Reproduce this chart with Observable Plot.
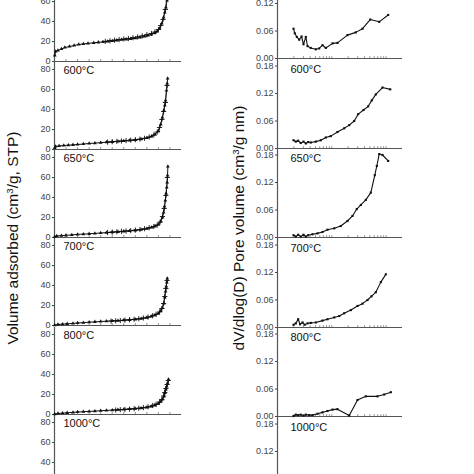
<!DOCTYPE html>
<html>
<head>
<meta charset="utf-8">
<script src="https://cdn.jsdelivr.net/npm/d3@7"></script>
<script src="https://cdn.jsdelivr.net/npm/@observablehq/plot@0.6"></script>
<style>
  html, body { margin: 0; padding: 0; background: #fff; }
  #fig { position: relative; width: 474px; height: 474px; overflow: hidden;
         font-family: "Liberation Sans", Arial, sans-serif; background: #fff; }
  #fig .panel { position: absolute; }
  #fig svg { background: transparent !important; overflow: visible !important; }
  #fig .ytitle { position: absolute; white-space: nowrap; font-size: 15.5px; color: #111;
                 transform: translate(-50%, -50%) rotate(-90deg); }
  #fig .ytitle sup { font-size: 0.62em; vertical-align: 0.55em; line-height: 0; }
</style>
</head>
<body>
<div id="fig"></div>
<script>
// Carbonisation temperature of each row (top row's label lies above the frame)
const tempLabels = ["", "600°C", "650°C", "700°C", "800°C", "1000°C"];

// Axis ticks
const volTicks = [0, 20, 40, 60, 80];
const pvTicks = [0, 0.06, 0.12, 0.18];
const pTicks = [0.1, 0.2, 0.3, 0.4, 0.5, 0.6, 0.7, 0.8, 0.9, 1.0];
const dTicks = [2, 3, 4, 5, 6, 7, 8, 9, 10, 20, 30, 40, 50, 60, 70, 80, 90, 100];

// N2 isotherms: [relative pressure p/p0, volume adsorbed cm3/g STP]
const adsTop = [[0.002,6],[0.01,10],[0.03,11],[0.06,12.5],[0.09,14],[0.13,15],[0.17,16],[0.21,17],[0.25,17.6],[0.29,18.1],[0.34,18.7],[0.38,19.2],[0.42,19.6],[0.46,20],[0.5,20.6],[0.54,21.2],[0.58,21.8],[0.62,22.2],[0.66,22.7],[0.7,23.3],[0.74,24],[0.78,25],[0.81,26],[0.84,27.2],[0.87,28.5],[0.89,30],[0.91,33],[0.93,38],[0.945,44],[0.955,49],[0.965,54],[0.975,61],[0.985,72],[0.99,84]];
const desTop = [[0.98,70],[0.96,52],[0.94,42],[0.92,36],[0.9,32],[0.87,29.5],[0.84,28],[0.8,26.8],[0.76,25.6],[0.72,24.6],[0.68,23.8],[0.64,23],[0.6,22.5],[0.56,21.9],[0.52,21.3],[0.48,20.7],[0.44,20.1]];

const ads600 = [[0.002,1.5],[0.01,3],[0.04,3.6],[0.08,4],[0.12,4.3],[0.16,4.7],[0.2,5],[0.25,5.5],[0.3,6],[0.35,6.4],[0.4,6.9],[0.45,7.3],[0.5,7.7],[0.55,8.1],[0.6,8.6],[0.65,9],[0.7,9.5],[0.75,10.3],[0.8,11.5],[0.84,13],[0.87,15],[0.9,18.5],[0.92,25],[0.935,32],[0.947,39],[0.955,44],[0.962,49],[0.97,59],[0.976,66],[0.98,71]];
const des600 = [[0.975,64],[0.96,47],[0.945,38],[0.93,30],[0.91,22],[0.89,17.5],[0.86,14.5],[0.82,12.5],[0.78,11.2],[0.74,10.4],[0.7,9.8],[0.66,9.3],[0.62,8.9],[0.58,8.5],[0.54,8.1],[0.5,7.8],[0.46,7.4]];

const ads650 = [[0.002,0.8],[0.02,1.5],[0.06,1.9],[0.1,2.2],[0.15,2.6],[0.2,3.1],[0.25,3.4],[0.3,3.7],[0.35,4.1],[0.4,4.5],[0.45,4.9],[0.5,5.3],[0.55,5.7],[0.6,6.2],[0.65,6.6],[0.7,7.1],[0.75,7.8],[0.8,8.8],[0.84,10],[0.87,11.2],[0.9,13],[0.92,16],[0.935,20],[0.945,25],[0.953,31],[0.96,37],[0.967,44],[0.972,50],[0.976,55],[0.979,62],[0.982,71]];
const des650 = [[0.978,60],[0.965,42],[0.95,29],[0.935,21],[0.915,15.5],[0.89,12.5],[0.86,11],[0.82,9.8],[0.78,8.8],[0.74,8],[0.7,7.4],[0.66,6.9],[0.62,6.5],[0.58,6.1],[0.54,5.7],[0.5,5.4],[0.46,5]];

const ads700 = [[0.002,0.4],[0.03,1],[0.07,1.4],[0.11,1.7],[0.16,2.1],[0.2,2.5],[0.25,2.9],[0.3,3.3],[0.35,3.7],[0.4,4],[0.45,4.3],[0.5,4.6],[0.55,4.9],[0.6,5.3],[0.65,5.7],[0.7,6.1],[0.75,6.8],[0.8,7.8],[0.84,9],[0.87,10.3],[0.9,12],[0.92,14.5],[0.935,17.5],[0.947,22],[0.955,28],[0.962,34],[0.968,39],[0.973,43],[0.977,47]];
const des700 = [[0.975,45],[0.965,37],[0.955,29],[0.945,22],[0.93,17],[0.91,13.5],[0.88,11.2],[0.85,9.8],[0.81,8.5],[0.77,7.5],[0.73,6.8],[0.69,6.2],[0.65,5.8],[0.61,5.4],[0.57,5],[0.53,4.7],[0.49,4.4]];

const ads800 = [[0.002,0.4],[0.03,1],[0.07,1.4],[0.11,1.7],[0.16,2.1],[0.2,2.5],[0.25,2.8],[0.3,3.1],[0.35,3.4],[0.4,3.8],[0.45,4.1],[0.5,4.4],[0.55,4.8],[0.6,5.1],[0.65,5.5],[0.7,5.8],[0.75,6.3],[0.8,7],[0.84,8],[0.87,9.2],[0.9,10.8],[0.92,12.8],[0.935,15],[0.947,18],[0.957,21.5],[0.965,25],[0.972,28],[0.98,31],[0.988,35]];
const des800 = [[0.985,34],[0.975,30],[0.965,26],[0.955,22],[0.945,18.5],[0.93,15],[0.91,12.5],[0.88,10.3],[0.85,9],[0.81,7.8],[0.77,6.9],[0.73,6.3],[0.69,5.8],[0.65,5.4],[0.61,5.1],[0.57,4.8],[0.53,4.5]];

// Pore size distributions: [pore diameter D (nm), dV/dlog(D) cm3/g nm]
const psdTop = [[1.97,0.065],[2.08,0.055],[2.27,0.047],[2.51,0.041],[2.77,0.048],[3.01,0.031],[3.32,0.047],[3.57,0.027],[4.10,0.023],[5.07,0.020],[5.86,0.022],[6.73,0.029],[7.75,0.023],[10.3,0.033],[12.7,0.034],[19.4,0.051],[27.6,0.057],[36.7,0.065],[50.9,0.085],[74.5,0.080],[109,0.095]];
const psd600 = [[1.97,0.018],[2.17,0.015],[2.40,0.017],[2.68,0.012],[3.01,0.015],[3.32,0.011],[3.67,0.014],[4.10,0.013],[5.07,0.015],[6.27,0.018],[7.75,0.024],[9.58,0.027],[12.7,0.036],[16.9,0.044],[20.9,0.051],[25.8,0.060],[30.6,0.075],[38.3,0.084],[46.7,0.092],[54.4,0.105],[64.5,0.118],[85.7,0.133],[119,0.129]];
const psd650 = [[1.97,0.005],[2.17,0.002],[2.40,0.006],[2.68,0.002],[3.01,0.006],[3.32,0.002],[3.67,0.005],[4.41,0.007],[5.45,0.009],[6.73,0.012],[8.32,0.017],[11.1,0.020],[14.6,0.025],[19.4,0.036],[24.0,0.047],[28.8,0.062],[34.2,0.071],[42.2,0.082],[52.2,0.098],[61.8,0.136],[67.3,0.156],[74.5,0.182],[85.7,0.180],[109,0.167]];
const psd700 = [[1.97,0.006],[2.17,0.009],[2.40,0.018],[2.60,0.007],[2.89,0.011],[3.16,0.006],[3.57,0.009],[4.10,0.010],[5.07,0.011],[6.73,0.015],[8.32,0.018],[11.1,0.022],[13.7,0.025],[16.9,0.031],[22.4,0.038],[29.7,0.047],[36.7,0.052],[45.4,0.060],[53.7,0.068],[64.5,0.077],[79.8,0.099],[98.6,0.116]];
const psd800 = [[1.97,0.001],[2.17,0.004],[2.40,0.003],[2.68,0.004],[3.01,0.002],[3.32,0.004],[3.82,0.003],[4.41,0.003],[5.45,0.006],[6.73,0.009],[8.32,0.012],[10.3,0.015],[12.7,0.016],[20.9,0.002],[29.7,0.036],[42.2,0.044],[69.3,0.044],[92.1,0.048],[122,0.053]];

const isoRows = [[adsTop, desTop], [ads600, des600], [ads650, des650], [ads700, des700], [ads800, des800], [[], []]];
const psdRows = [psdTop, psd600, psd650, psd700, psd800, []];

const FONT = '"Liberation Sans", Arial, sans-serif';
const INK = "#111";
const AXIS = "#555";

function isoPanel(label, ads, des) {
  return Plot.plot({
    width: 200, height: 88,
    marginLeft: 54, marginRight: 19, marginTop: 0, marginBottom: 1,
    x: {domain: [0, 1.1], axis: null},
    y: {domain: [0, 87], ticks: volTicks, tickSize: 2, tickPadding: 2, tickFormat: d3.format("d"), label: null},
    style: {fontSize: "9px", fontFamily: FONT, color: "#444", background: "transparent", overflow: "visible"},
    marks: [
      Plot.ruleX([0], {stroke: AXIS, strokeWidth: 1.2}),
      Plot.ruleY([0], {x1: 0, x2: 1.1, stroke: AXIS, strokeWidth: 1.2}),
      Plot.ruleX(pTicks, {x: d => d, y1: 0, y2: 2, stroke: "#777", strokeWidth: 0.8}),
      Plot.line(ads, {x: d => d[0], y: d => d[1], stroke: INK, strokeWidth: 1}),
      Plot.line(des, {x: d => d[0], y: d => d[1], stroke: INK, strokeWidth: 0.7}),
      Plot.dot(ads, {x: d => d[0], y: d => d[1], symbol: "triangle", r: 1.4, fill: INK, stroke: "none"}),
      Plot.dot(des, {x: d => d[0], y: d => d[1], symbol: "plus", r: 1.8, stroke: INK, strokeWidth: 0.9}),
      Plot.text([label], {frameAnchor: "top-left", dx: 9, dy: 3.5, lineAnchor: "top", textAnchor: "start",
                          fontSize: 11, fill: INK, fontFamily: FONT})
    ]
  });
}

function psdPanel(label, data) {
  return Plot.plot({
    width: 224, height: 90,
    marginLeft: 77, marginRight: 22, marginTop: 0, marginBottom: 1,
    x: {type: "log", domain: [1, 200], axis: null},
    y: {domain: [0, 0.18 * 89 / 82.5], ticks: pvTicks, tickSize: 2, tickPadding: 2, tickFormat: d3.format(".2f"), label: null},
    style: {fontSize: "9px", fontFamily: FONT, color: "#444", background: "transparent", overflow: "visible"},
    marks: [
      Plot.ruleX([1], {stroke: AXIS, strokeWidth: 1.2}),
      Plot.ruleY([0], {x1: 1, x2: 200, stroke: AXIS, strokeWidth: 1.2}),
      Plot.ruleX(dTicks, {x: d => d, y1: 0, y2: 0.004, stroke: "#777", strokeWidth: 0.8}),
      Plot.line(data, {x: d => d[0], y: d => d[1], stroke: INK, strokeWidth: 1.1}),
      Plot.dot(data, {x: d => d[0], y: d => d[1], symbol: "square", r: 1.2, fill: INK, stroke: "none"}),
      Plot.text([label], {frameAnchor: "top-left", dx: 13, dy: 6, lineAnchor: "top", textAnchor: "start",
                          fontSize: 11, fill: INK, fontFamily: FONT})
    ]
  });
}

const fig = document.getElementById("fig");

function place(node, left, top, width) {
  const wrap = document.createElement("div");
  wrap.className = "panel";
  wrap.style.left = left + "px";
  wrap.style.top = top + "px";
  wrap.style.width = width + "px";
  wrap.appendChild(node);
  fig.appendChild(wrap);
}

isoRows.forEach(([ads, des], i) => {
  const baseline = 60.8 + 88.2 * i;
  place(isoPanel(tempLabels[i], ads, des), 0, baseline - 87, 200);
});
psdRows.forEach((data, i) => {
  const baseline = 58 + 89.5 * i;
  place(psdPanel(tempLabels[i], data), 200, baseline - 89, 224);
});

function title(html, cx, cy) {
  const t = document.createElement("div");
  t.className = "ytitle";
  t.innerHTML = html;
  t.style.left = cx + "px";
  t.style.top = cy + "px";
  fig.appendChild(t);
}
title("Volume adsorbed (cm<sup>3</sup>/g, STP)", 12.5, 238);
title("dV/dlog(D) Pore volume (cm<sup>3</sup>/g nm)", 239, 228);
</script>
</body>
</html>
